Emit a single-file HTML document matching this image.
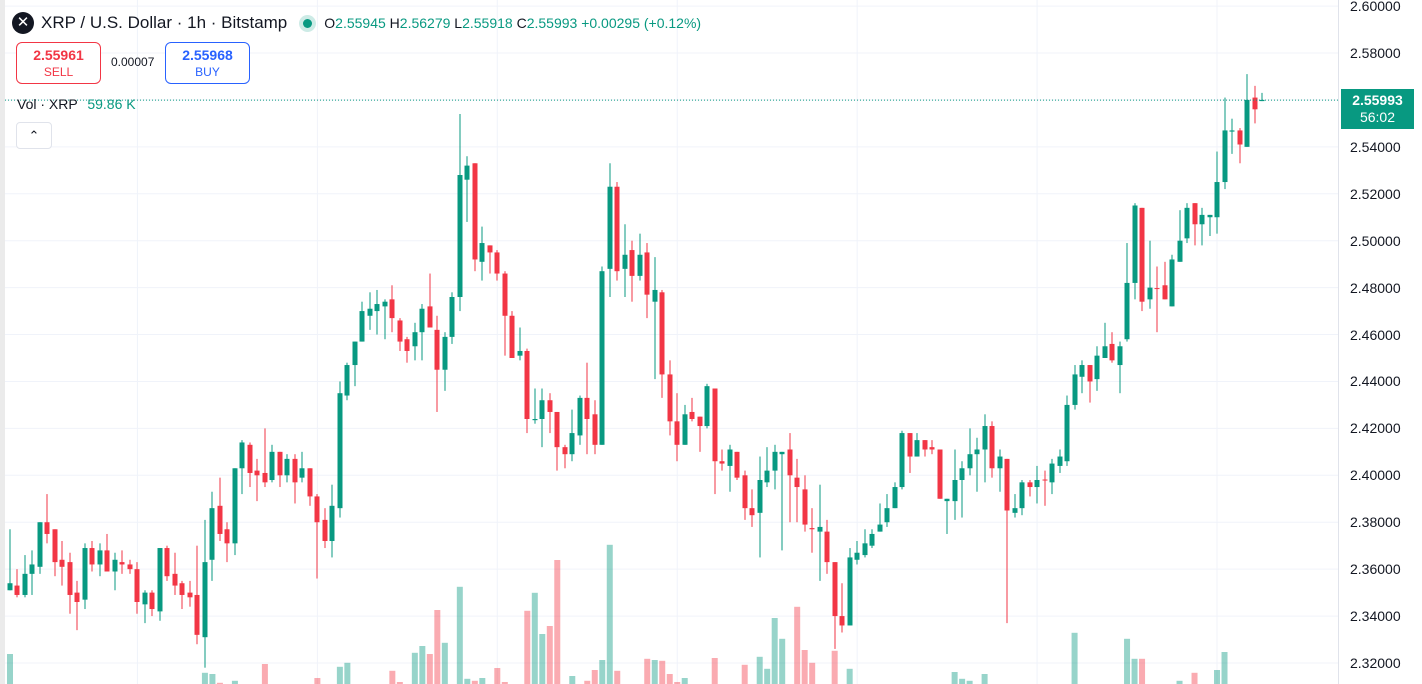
<!DOCTYPE html>
<html><head><meta charset="utf-8">
<style>
body{margin:0;width:1422px;height:684px;overflow:hidden;background:#fff;font-family:"Liberation Sans",sans-serif;position:relative}
.abs{position:absolute}
.ytick{position:absolute;left:1350px;font-size:14px;color:#131722;transform:translateY(-50%)}
</style></head><body>
<svg id="chart" class="abs" style="left:0;top:0" width="1422" height="684"></svg>

<div class="abs" style="left:12px;top:10px;height:26px;display:flex;align-items:center;font-size:17px;color:#131722">
  <div style="width:22px;height:22px;border-radius:50%;background:#131722;color:#fff;font-size:15px;line-height:22px;text-align:center;margin-right:7px">✕</div>
  <span>XRP / U.S. Dollar · 1h · Bitstamp</span>
  <span style="display:inline-block;width:9px;height:9px;border-radius:50%;background:#089981;box-shadow:0 0 0 4px #cdebe6;margin:0 12px 0 16px"></span>
  <span style="font-size:14px;color:#089981"><span style="color:#131722">O</span>2.55945 <span style="color:#131722">H</span>2.56279 <span style="color:#131722">L</span>2.55918 <span style="color:#131722">C</span>2.55993 +0.00295 (+0.12%)</span>
</div>

<div class="abs" style="left:16px;top:42px;width:83px;height:40px;border:1px solid #f23645;border-radius:6px;text-align:center;color:#f23645;background:#fff">
  <div style="font-size:14px;font-weight:bold;margin-top:4px">2.55961</div><div style="font-size:12px;margin-top:2px">SELL</div></div>
<div class="abs" style="left:111px;top:55px;font-size:12px;color:#131722">0.00007</div>
<div class="abs" style="left:165px;top:42px;width:83px;height:40px;border:1px solid #2962ff;border-radius:6px;text-align:center;color:#2962ff;background:#fff">
  <div style="font-size:14px;font-weight:bold;margin-top:4px">2.55968</div><div style="font-size:12px;margin-top:2px">BUY</div></div>
<div class="abs" style="left:17px;top:96px;font-size:14px;color:#131722">Vol · XRP <span style="color:#089981;margin-left:6px">59.86 K</span></div>
<div class="abs" style="left:16px;top:122px;width:34px;height:25px;border:1px solid #e0e3eb;border-radius:4px;text-align:center;line-height:25px;font-size:13px;color:#131722;background:#fff">⌃</div>

<div class="abs" style="left:1341px;top:89px;width:73px;height:40px;background:#089981;color:#fff;text-align:center;font-size:14px">
  <div style="margin-top:3px;font-weight:bold">2.55993</div><div style="margin-top:1px">56:02</div></div>

<script>
const opens=[2.351,2.353,2.349,2.358,2.361,2.380,2.377,2.364,2.363,2.350,2.347,2.369,2.362,2.368,2.359,2.363,2.362,2.360,2.345,2.350,2.342,2.369,2.358,2.354,2.350,2.349,2.331,2.364,2.387,2.377,2.371,2.403,2.413,2.402,2.401,2.398,2.410,2.400,2.407,2.399,2.403,2.391,2.381,2.372,2.386,2.434,2.447,2.457,2.468,2.470,2.472,2.475,2.466,2.458,2.455,2.461,2.472,2.462,2.445,2.459,2.476,2.526,2.533,2.491,2.498,2.495,2.486,2.468,2.451,2.453,2.4235,2.424,2.432,2.427,2.412,2.409,2.417,2.433,2.426,2.413,2.488,2.523,2.488,2.496,2.485,2.495,2.474,2.478,2.443,2.423,2.413,2.427,2.425,2.421,2.437,2.406,2.404,2.410,2.400,2.386,2.384,2.397,2.402,2.409,2.411,2.399,2.394,2.3775,2.376,2.376,2.363,2.340,2.336,2.364,2.366,2.370,2.376,2.380,2.386,2.395,2.418,2.408,2.415,2.412,2.411,2.389,2.389,2.398,2.403,2.409,2.411,2.421,2.403,2.407,2.384,2.386,2.397,2.395,2.3982,2.397,2.404,2.406,2.430,2.442,2.447,2.441,2.450,2.456,2.447,2.458,2.482,2.514,2.475,2.4798,2.481,2.472,2.491,2.501,2.516,2.507,2.510,2.510,2.525,2.5465,2.547,2.540,2.561,2.5595];
const closes=[2.354,2.349,2.358,2.362,2.380,2.375,2.363,2.361,2.349,2.346,2.369,2.362,2.368,2.359,2.364,2.362,2.360,2.346,2.350,2.343,2.369,2.357,2.353,2.349,2.348,2.332,2.363,2.386,2.375,2.371,2.403,2.414,2.401,2.400,2.397,2.410,2.400,2.407,2.397,2.403,2.391,2.380,2.372,2.387,2.435,2.447,2.457,2.470,2.471,2.473,2.474,2.467,2.457,2.453,2.461,2.471,2.463,2.445,2.459,2.476,2.528,2.532,2.492,2.499,2.495,2.486,2.468,2.450,2.453,2.424,2.424,2.432,2.427,2.412,2.409,2.418,2.433,2.424,2.413,2.487,2.523,2.487,2.494,2.485,2.494,2.477,2.479,2.443,2.423,2.413,2.426,2.424,2.421,2.438,2.406,2.405,2.411,2.399,2.386,2.383,2.398,2.402,2.410,2.410,2.400,2.395,2.379,2.377,2.378,2.363,2.340,2.336,2.365,2.367,2.371,2.375,2.379,2.386,2.395,2.418,2.408,2.415,2.411,2.411,2.390,2.390,2.398,2.403,2.409,2.411,2.421,2.403,2.408,2.385,2.386,2.397,2.395,2.398,2.398,2.405,2.408,2.430,2.443,2.447,2.440,2.451,2.455,2.449,2.455,2.482,2.515,2.474,2.480,2.4797,2.475,2.492,2.500,2.514,2.507,2.511,2.511,2.525,2.547,2.547,2.541,2.560,2.556,2.560];
const highs=[2.377,2.360,2.366,2.368,2.380,2.392,2.377,2.372,2.367,2.355,2.371,2.372,2.371,2.375,2.367,2.368,2.364,2.363,2.351,2.351,2.369,2.370,2.367,2.355,2.355,2.370,2.381,2.393,2.399,2.380,2.403,2.415,2.414,2.407,2.420,2.413,2.410,2.409,2.409,2.410,2.403,2.392,2.386,2.396,2.440,2.448,2.457,2.474,2.478,2.479,2.475,2.481,2.467,2.459,2.465,2.473,2.486,2.468,2.461,2.478,2.554,2.536,2.533,2.506,2.498,2.496,2.487,2.470,2.463,2.454,2.437,2.437,2.435,2.427,2.413,2.428,2.434,2.448,2.432,2.489,2.533,2.525,2.507,2.500,2.503,2.499,2.493,2.479,2.449,2.435,2.430,2.433,2.425,2.439,2.437,2.411,2.413,2.410,2.402,2.394,2.408,2.412,2.413,2.410,2.418,2.407,2.400,2.386,2.396,2.381,2.363,2.354,2.369,2.372,2.377,2.377,2.388,2.392,2.397,2.419,2.418,2.418,2.415,2.415,2.411,2.390,2.411,2.406,2.420,2.416,2.426,2.423,2.411,2.407,2.392,2.398,2.398,2.404,2.402,2.407,2.411,2.434,2.447,2.449,2.447,2.455,2.465,2.461,2.457,2.499,2.516,2.514,2.500,2.489,2.491,2.494,2.513,2.516,2.516,2.514,2.511,2.538,2.561,2.552,2.548,2.571,2.566,2.563];
const lows=[2.351,2.348,2.348,2.349,2.358,2.371,2.357,2.353,2.341,2.334,2.343,2.359,2.357,2.359,2.351,2.358,2.358,2.341,2.337,2.340,2.338,2.355,2.349,2.343,2.344,2.328,2.318,2.355,2.372,2.363,2.366,2.392,2.395,2.389,2.395,2.397,2.395,2.397,2.388,2.397,2.387,2.356,2.369,2.365,2.382,2.432,2.438,2.457,2.462,2.460,2.458,2.461,2.453,2.448,2.449,2.449,2.463,2.427,2.436,2.456,2.470,2.508,2.487,2.483,2.486,2.483,2.451,2.450,2.449,2.418,2.422,2.412,2.418,2.402,2.403,2.406,2.413,2.409,2.409,2.413,2.476,2.483,2.476,2.474,2.483,2.467,2.441,2.433,2.417,2.406,2.413,2.423,2.410,2.420,2.392,2.402,2.393,2.398,2.381,2.378,2.365,2.395,2.394,2.368,2.380,2.380,2.376,2.367,2.355,2.358,2.326,2.333,2.336,2.362,2.365,2.369,2.376,2.378,2.386,2.394,2.401,2.408,2.408,2.409,2.390,2.375,2.381,2.382,2.400,2.393,2.397,2.399,2.393,2.337,2.382,2.383,2.391,2.388,2.387,2.392,2.401,2.404,2.428,2.435,2.431,2.436,2.450,2.448,2.435,2.457,2.475,2.470,2.471,2.461,2.475,2.472,2.491,2.499,2.498,2.498,2.502,2.503,2.522,2.537,2.533,2.540,2.550,2.5595];
const volIdx=[1,27,28,29,31,35,42,45,46,52,53,55,56,57,58,59,61,62,63,64,66,67,70,71,72,73,74,76,78,79,80,81,82,86,87,88,89,90,91,95,99,101,102,103,104,106,107,108,111,113,127,128,129,131,143,150,151,152,157,159,162,163];
const volK=[75,28,25,3,8,50,15,43,53,33,5,78,95,75,185,103,243,13,8,15,40,5,183,228,125,145,310,20,8,35,60,348,33,63,60,58,25,5,15,65,48,68,38,165,113,193,85,53,83,38,30,13,8,25,128,113,63,63,8,28,35,80];
const yTicks=[2.60,2.58,2.56,2.54,2.52,2.50,2.48,2.46,2.44,2.42,2.40,2.38,2.36,2.34,2.32];
const lastPrice=2.55993;

const NS="http://www.w3.org/2000/svg";
const svg=document.getElementById('chart');
const yP=p=>663-(p-2.32)*2346.15;
const xI=i=>10+i*7.497;
const yV=v=>684-v*0.4;
function mk(tag,attrs,parent){const e=document.createElementNS(NS,tag);for(const k in attrs)e.setAttribute(k,attrs[k]);(parent||svg).appendChild(e);return e;}

const strip=mk('rect',{x:0,y:0,width:5,height:684,fill:'#ebebeb'});


const grid=mk('g',{});


yTicks.forEach(t=>{mk('line',{x1:5,x2:1338,y1:yP(t),y2:yP(t),stroke:'#f0f3fa','stroke-width':1},grid);});
for(let k=0;k<7;k++){const x=xI(17+k*24);mk('line',{x1:x,x2:x,y1:0,y2:684,stroke:'#f0f3fa','stroke-width':1},grid);}
mk('line',{x1:1338.5,x2:1338.5,y1:0,y2:684,stroke:'#e0e3eb'},grid);

const vg=mk('g',{});


volIdx.forEach((n,j)=>{
  const i=n-1;const v=volK[j];
  const up=closes[i]>=opens[i];
  const r=mk('rect',{x:xI(i)-3,y:yV(v),width:6,height:684-yV(v),fill:up?'rgba(8,153,129,0.42)':'rgba(242,54,69,0.42)'},vg);
  
  
});
const cg=mk('g',{});


for(let i=0;i<opens.length;i++){
  const up=closes[i]>=opens[i];const col=up?'#089981':'#f23645';
  const g=mk('g',{},cg);
  
  
  const x=Math.round(xI(i));
  mk('rect',{x:x-0.5,y:yP(highs[i]),width:1,height:Math.max(1,yP(lows[i])-yP(highs[i])),fill:col},g);
  const t=yP(Math.max(opens[i],closes[i])),b=yP(Math.min(opens[i],closes[i]));
  mk('rect',{x:x-2.5,y:t,width:5,height:Math.max(1,b-t),fill:col},g);
}
const pl=mk('line',{x1:5,x2:1340,y1:yP(lastPrice),y2:yP(lastPrice),stroke:'#089981','stroke-width':1,'stroke-dasharray':'1 2'});



yTicks.forEach(t=>{
  if(Math.abs(t-lastPrice)<0.006)return;
  const d=document.createElement('div');
  d.className='ytick';d.style.top=yP(t)+'px';d.textContent=t.toFixed(5);
  
  
  document.body.appendChild(d);
});
</script>
</body></html>
